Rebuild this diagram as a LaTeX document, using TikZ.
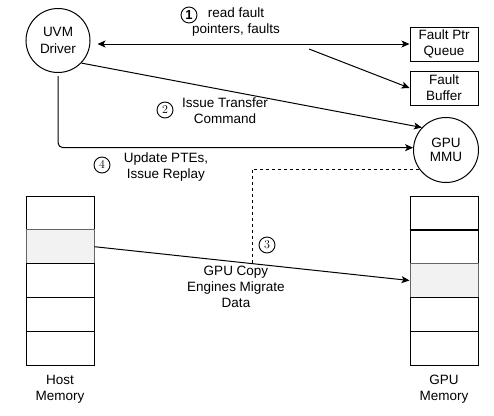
\documentclass[tikz,border=0pt]{standalone}
\usepackage{fontspec}
\setmainfont{Liberation Sans}
\usetikzlibrary{arrows.meta}
\definecolor{cellfill}{HTML}{F2F2F2}
\definecolor{cellline}{HTML}{666666}
\begin{document}
\begin{tikzpicture}[x=1pt,y=-1pt,
  every node/.style={font=\fontsize{13.5}{16}\selectfont, inner sep=0pt},
  arr/.style={line width=1pt, -{Stealth[length=8pt,width=7pt,inset=2pt]}},
  darr/.style={line width=1pt, {Stealth[length=8pt,width=7pt,inset=2pt]}-{Stealth[length=8pt,width=7pt,inset=2pt]}},
  ball/.style={draw, circle, line width=1pt, minimum size=64pt, align=center},
  box/.style={draw, line width=1pt, minimum width=68pt, minimum height=34pt, align=center},
  cell/.style={draw, line width=1pt, minimum width=68pt, minimum height=33.8pt},
  hicell/.style={cell, draw=cellline, fill=cellfill},
  num/.style={draw, circle, line width=0.9pt, minimum size=16pt, font=\fontsize{13}{13}\selectfont},
  lbl/.style={align=center}]
\useasboundingbox (0,0) rectangle (494,415);

% main blocks
\node[ball] (uvm) at (58,40.5) {UVM\\[1pt]Driver};
\node[ball, minimum size=65pt] (mmu) at (446,150) {GPU\\[-1.5pt]MMU};
\node[box] (fpq) at (444,44) {Fault Ptr\\Queue};
\node[box] (fb) at (444,88) {Fault\\Buffer};

% host memory
\node[cell] (h1) at (60,212.9) {};
\node[hicell] (h2) at (60,246.7) {};
\node[cell] (h3) at (60,280.5) {};
\node[cell] (h4) at (60,314.3) {};
\node[cell] (h5) at (60,348.1) {};
\node[lbl] (hl) at (60,389) {Host\\Memory};

% gpu memory
\node[cell] (g1) at (444,212.9) {};
\node[cell] (g2) at (444,246.7) {};
\node[hicell] (g3) at (444,280.5) {};
\node[cell] (g4) at (444,314.3) {};
\node[cell] (g5) at (444,348.1) {};
\draw[line width=2pt] (g1.south west) -- (g1.south east);
\node[lbl] (gl) at (444,389) {GPU\\Memory};

% connectors
\draw[darr] ([xshift=7pt]uvm.east |- fpq.west) -- (fpq.west);
\coordinate (s1) at (309,49);
\draw[arr] (s1) -- (fb.west);
\draw[arr] (uvm.-44) -- (mmu.137);
\draw[arr, rounded corners=5pt, shorten <=3pt] (uvm.south) |- (mmu.176);
\draw[arr] (h2.east) -- (g3.west) coordinate[pos=0.5] (mid);
\draw[line width=1pt, dash pattern=on 3pt off 3pt] (mmu.216) -| (mid);

% labels
\node[num] (n1) at (189,15) {$\mathbf{1}$};
\node[lbl] (t1) at (236,22) {read fault\\pointers, faults};
\node[num] (n2) at (165,110) {$2$};
\node[lbl] (t2) at (225,111) {Issue Transfer\\Command};
\node[num] (n4) at (102,165) {$4$};
\node[lbl] (t4) at (166,167.5) {Update PTEs,\\Issue Replay};
\node[num] (n3) at (267,245) {$3$};
\node[lbl] (t3) at (236,287) {GPU Copy\\Engines Migrate\\Data};
\end{tikzpicture}
\end{document}
